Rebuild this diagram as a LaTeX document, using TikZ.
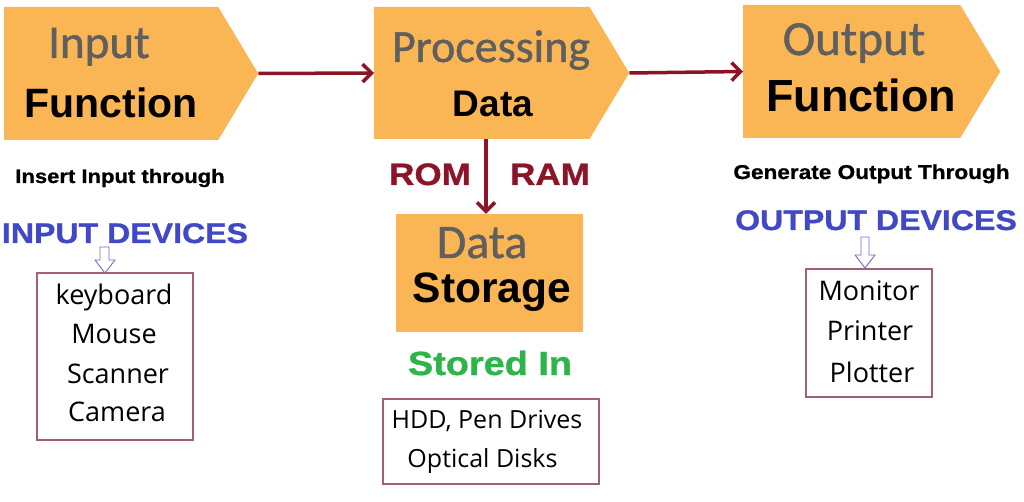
\documentclass[tikz,border=0pt]{standalone}
\usepackage{fontspec}
\setmainfont{Liberation Sans}
\newfontfamily\devfont{Open Sans}
\newfontfamily\greyfont[FakeBold=1]{Carlito}
\newfontfamily\blackfont[FakeStretch=1.13, FakeBold=1]{Liberation Sans}
\usetikzlibrary{arrows.meta,shapes.symbols}

\definecolor{boxorange}{RGB}{250,182,84}
\definecolor{arrowred}{RGB}{140,20,40}
\definecolor{devblue}{RGB}{64,72,200}
\definecolor{storegreen}{RGB}{45,180,75}
\definecolor{framered}{RGB}{165,95,115}
\definecolor{wordgrey}{RGB}{95,95,95}
\definecolor{hollowblue}{RGB}{110,110,210}

\tikzset{
	funcbox/.style={signal, signal to=east, signal pointer angle=118, fill=boxorange, inner sep=0pt, anchor=west},
	storebox/.style={rectangle, fill=boxorange, inner sep=0pt},
	devbox/.style={rectangle, draw=framered, line width=1.1pt, inner sep=0pt},
	greyword/.style={anchor=base, inner sep=0pt, text=wordgrey, font=\greyfont\fontsize{#1}{#1}\selectfont},
	blackword/.style={anchor=base, inner sep=0pt, font=\bfseries\fontsize{#1}{#1}\selectfont},
	heavyword/.style={anchor=base, inner sep=0pt, font=\blackfont\bfseries\fontsize{#1}{#1}\selectfont},
	devword/.style={anchor=base, inner sep=0pt, font=\devfont\fontsize{#1}{#1}\selectfont},
	flowarrow/.style={draw=arrowred, line width=3.5pt, -{Straight Barb[length=9pt,width=18pt]}},
	hollowarrow/.style={draw=hollowblue, line width=0.9pt, fill=white}
}

\begin{document}
\begin{tikzpicture}[x=1pt, y=-1pt]
		\useasboundingbox (0, 0) rectangle (1024, 502);
		% the three function blocks
		\node [funcbox, minimum width=254, minimum height=133] (infunc) at (4, 73.5) {};
		\node [funcbox, minimum width=255, minimum height=132] (procfunc) at (374, 73) {};
		\node [funcbox, minimum width=257, minimum height=133] (outfunc) at (743, 71.5) {};
		\node [storebox, minimum width=187, minimum height=118] (storage) at (489.5, 273) {};
		\node [greyword=47] (inword) at (99, 58) {Input};
		\node [blackword=41] (infuncword) at (111, 118) {Function};
		\node [greyword=46] (procword) at (491, 62) {Processing};
		\node [blackword=37] (procdata) at (493, 117) {Data};
		\node [greyword=49] (outword) at (854, 55) {Output};
		\node [blackword=45] (outfuncword) at (861, 112) {Function};
		\node [greyword=48] (storedata) at (482, 258) {Data};
		\node [blackword=42.5] (storageword) at (492, 302) {Storage};
		% connectors
		\draw [flowarrow] (infunc.east) -- (procfunc.west);
		\draw [flowarrow] (procfunc.east) -- (outfunc.west);
		\draw [flowarrow] ([xshift=-3.5]storage.north |- procfunc.south) -- ([xshift=-3.5]storage.north);
		\node [heavyword=31, text=arrowred] (rom) at (430, 185) {ROM};
		\node [heavyword=31, text=arrowred] (ram) at (550, 185) {RAM};
		% input side
		\node [heavyword=19.5] (insert) at (120, 183) {Insert Input through};
		\node [heavyword=28.4, text=devblue] (indev) at (125, 243) {INPUT DEVICES};
		\draw [hollowarrow] (100, 247) -- (109, 247) -- (109, 260) -- (115, 260) -- (105, 273) -- (95, 260) -- (100, 260) -- cycle;
		\node [devbox, minimum width=156, minimum height=167] (inbox) at (115, 356.5) {};
		\node [devword=27] (keyboard) at (114, 305) {keyboard};
		\node [devword=27] (mouse) at (114, 343) {Mouse};
		\node [devword=27] (scanner) at (118, 383) {Scanner};
		\node [devword=27] (camera) at (117, 421) {Camera};
		% output side
		\node [heavyword=20] (generate) at (871.5, 179) {Generate Output Through};
		\node [heavyword=28.4, text=devblue] (outdev) at (876, 230) {OUTPUT DEVICES};
		\draw [hollowarrow] (861, 237) -- (869, 237) -- (869, 255) -- (875, 255) -- (865, 268) -- (855, 255) -- (861, 255) -- cycle;
		\node [devbox, minimum width=126, minimum height=128] (outbox) at (869, 333) {};
		\node [devword=27] (monitor) at (869, 300) {Monitor};
		\node [devword=27] (printer) at (870, 340) {Printer};
		\node [devword=27] (plotter) at (872, 382) {Plotter};
		% storage side
		\node [heavyword=33.5, text=storegreen] (storedin) at (490, 375) {Stored In};
		\node [devbox, minimum width=216, minimum height=85] (hddbox) at (491, 441.5) {};
		\node [devword=25] (hdd) at (487, 428) {HDD, Pen Drives};
		\node [devword=25] (optical) at (482.5, 467) {Optical Disks};
	\end{tikzpicture}
\end{document}
